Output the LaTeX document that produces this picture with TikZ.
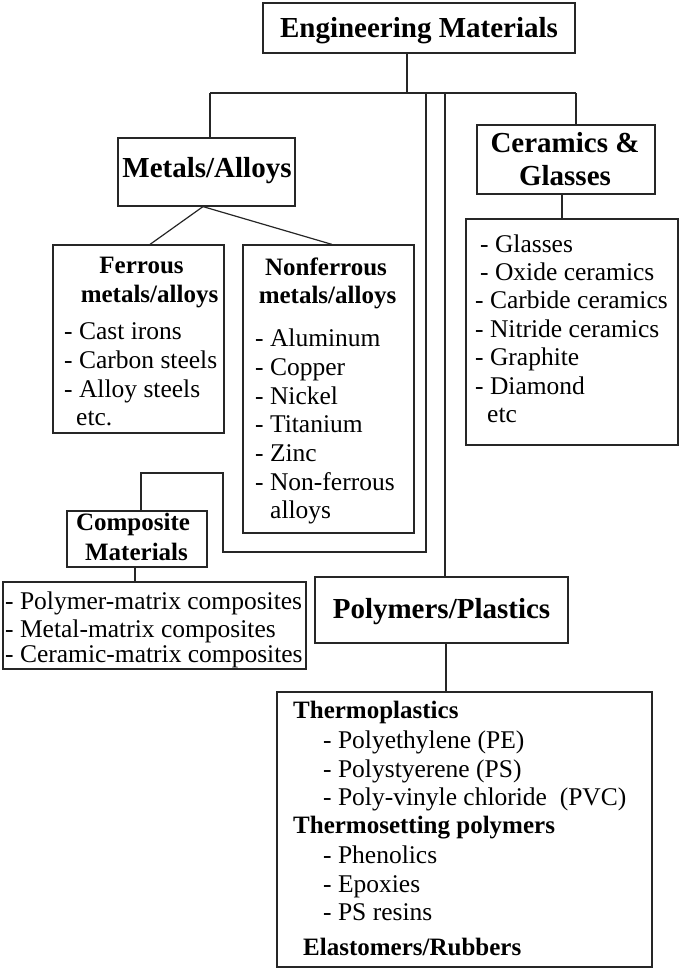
\documentclass[tikz,border=0pt]{standalone}
\usepackage{fontspec}
\setmainfont{Liberation Serif}
\tikzset{
  box/.style={draw=black!85, line width=1.2pt, inner sep=0pt, fill=white},
  conn/.style={draw=black!85, line width=1.2pt},
  hdr/.style={font=\fontsize{29}{33}\selectfont\bfseries, inner sep=0pt, anchor=base},
  sub/.style={font=\fontsize{25}{29}\selectfont\bfseries, inner sep=0pt},
  itm/.style={font=\fontsize{25.5}{29}\selectfont, inner sep=0pt, anchor=base west},
}
\begin{document}
\begin{tikzpicture}[x=1pt,y=-1pt]
\useasboundingbox (0,0) rectangle (685,977);

% ---- connectors (drawn first, boxes on top) ----
\coordinate (hL) at (210,93);
\coordinate (hR) at (576,93);
\coordinate (hM) at (407,93);
\coordinate (c1) at (426,93);
\coordinate (c2) at (426,552);
\coordinate (c3) at (223,552);
\coordinate (c4) at (223,473);
\coordinate (c5) at (141,473);
\coordinate (p1) at (445,93);
\coordinate (mb) at (203,206);
\coordinate (fa) at (150,245);
\coordinate (na) at (332,245);
\coordinate (ck) at (562,200);
\coordinate (cm) at (135,570);
\coordinate (pk) at (446,650);

% ---- boxes ----
\node[box, minimum width=312, minimum height=50] (em) at (419,28) {};
\node[box, minimum width=177, minimum height=68] (met) at (206.5,172) {};
\node[box, minimum width=178, minimum height=69] (cer) at (566,159.5) {};
\node[box, minimum width=171, minimum height=188] (fer) at (138.5,339) {};
\node[box, minimum width=171, minimum height=288] (nfe) at (328.5,389) {};
\node[box, minimum width=212, minimum height=226] (cli) at (572,332) {};
\node[box, minimum width=140, minimum height=56] (com) at (137,539) {};
\node[box, minimum width=303, minimum height=87] (coli) at (154.5,625.5) {};
\node[box, minimum width=253, minimum height=66] (pol) at (441.5,610) {};
\node[box, minimum width=375, minimum height=275] (pli) at (464.5,829.5) {};

\draw[conn] (em.south -| hM) -- (hM);
\draw[conn] (hL) -- (hR);
\draw[conn] (hL) -- (hL |- met.north);
\draw[conn] (hR) -- (hR |- cer.north);
\draw[conn] (c1) -- (c2) -- (c3) -- (c4) -- (c5) -- (c5 |- com.north);
\draw[conn] (p1) -- (p1 |- pol.north);
\draw[conn] (met.south -| mb) -- (fer.north -| fa);
\draw[conn] (met.south -| mb) -- (nfe.north -| na);
\draw[conn] (cer.south -| ck) -- (cli.north -| ck);
\draw[conn] (com.south -| cm) -- (coli.north -| cm);
\draw[conn] (pol.south -| pk) -- (pli.north -| pk);

% ---- header texts ----
\node[hdr] (emt) at (419,37) {Engineering Materials};
\node[hdr] (mett) at (207,177) {Metals/Alloys};
\node[hdr] (cert1) at (565,152) {Ceramics \&};
\node[hdr] (cert2) at (565,185) {Glasses};
\node[hdr] (polt) at (441.5,618) {Polymers/Plastics};

% ---- ferrous ----
\node[sub, anchor=base] (fert1) at (141.5,273) {Ferrous};
\node[sub, anchor=base] (fert2) at (149.5,302) {metals/alloys};
\node[itm] (f1) at (64,339) {- Cast irons};
\node[itm] (f2) at (64,368) {- Carbon steels};
\node[itm] (f3) at (64,397) {- Alloy steels};
\node[itm] (f4) at (76,425) {etc.};

% ---- nonferrous ----
\node[sub, anchor=base] (nfet1) at (326,275) {Nonferrous};
\node[sub, anchor=base] (nfet2) at (327.5,303) {metals/alloys};
\node[itm] (n1) at (255,346) {- Aluminum};
\node[itm] (n2) at (255,375) {- Copper};
\node[itm] (n3) at (255,404) {- Nickel};
\node[itm] (n4) at (255,432) {- Titanium};
\node[itm] (n5) at (255,461) {- Zinc};
\node[itm] (n6) at (255,490) {- Non-ferrous};
\node[itm] (n7) at (270,518) {alloys};

% ---- ceramics list ----
\node[itm] (k1) at (480,252) {- Glasses};
\node[itm] (k2) at (480,280) {- Oxide ceramics};
\node[itm] (k3) at (475,308) {- Carbide ceramics};
\node[itm] (k4) at (475,337) {- Nitride ceramics};
\node[itm] (k5) at (475,365) {- Graphite};
\node[itm] (k6) at (475,394) {- Diamond};
\node[itm] (k7) at (487,422) {etc};

% ---- composites ----
\node[sub, anchor=base] (comt1) at (133,530) {Composite};
\node[sub, anchor=base] (comt2) at (136.5,560) {Materials};
\node[itm] (m1) at (5,609) {- Polymer-matrix composites};
\node[itm] (m2) at (5,637) {- Metal-matrix composites};
\node[itm] (m3) at (5,662) {- Ceramic-matrix composites};

% ---- polymers list ----
\node[sub, anchor=base west] (pt1) at (293,718) {Thermoplastics};
\node[itm] (q1) at (323,748) {- Polyethylene (PE)};
\node[itm] (q2) at (323,777) {- Polystyerene (PS)};
\node[itm] (q3) at (323,805) {- Poly-vinyle chloride~ (PVC)};
\node[sub, anchor=base west] (pt2) at (293,833) {Thermosetting polymers};
\node[itm] (q4) at (323,863) {- Phenolics};
\node[itm] (q5) at (323,892) {- Epoxies};
\node[itm] (q6) at (323,920) {- PS resins};
\node[sub, anchor=base west] (pt3) at (303,955) {Elastomers/Rubbers};
\end{tikzpicture}
\end{document}
